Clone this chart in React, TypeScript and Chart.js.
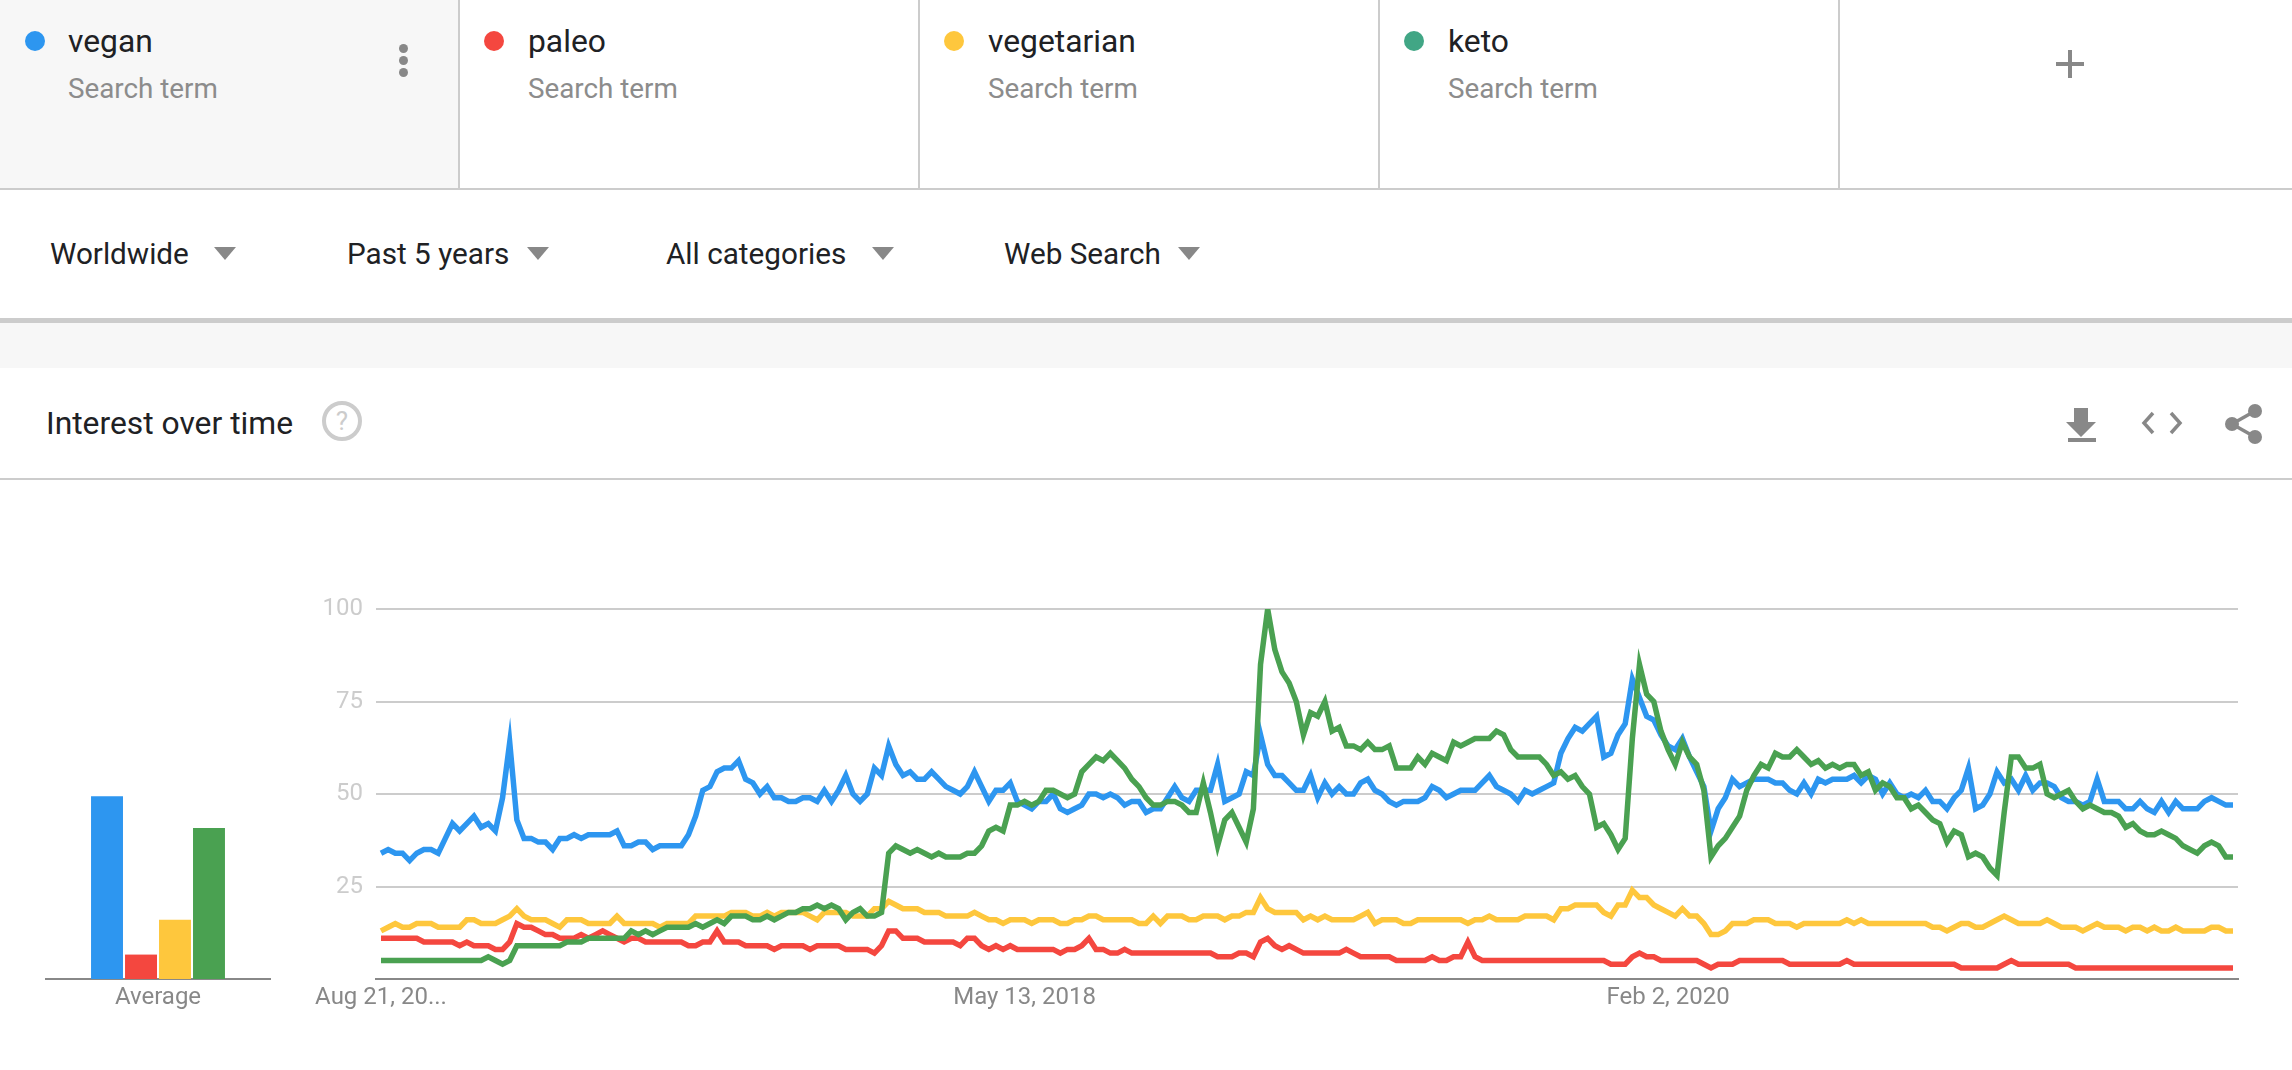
import React, { useEffect, useRef } from 'react';
import { Chart, registerables } from 'chart.js';

Chart.register(...registerables);

const terms = ['vegan', 'paleo', 'vegetarian', 'keto'];
const lineColors = ['#2d96f0', '#f4473f', '#fec73d', '#4aa151'];
const dotColors = ['#2d96f0', '#f4473f', '#fec73d', '#41a685'];
const averages = [49.4, 6.6, 16, 40.8];

const vegan = [
  34, 35, 34, 34, 32, 34, 35, 35, 34, 38,
  42, 40, 42, 44, 41, 42, 40, 49, 64, 43,
  38, 38, 37, 37, 35, 38, 38, 39, 38, 39,
  39, 39, 39, 40, 36, 36, 37, 37, 35, 36,
  36, 36, 36, 39, 44, 51, 52, 56, 57, 57,
  59, 54, 53, 50, 52, 49, 49, 48, 48, 49,
  49, 48, 51, 48, 51, 55, 50, 48, 50, 57,
  55, 63, 58, 55, 56, 54, 54, 56, 54, 52,
  51, 50, 52, 56, 52, 48, 51, 51, 53, 48,
  47, 46, 48, 48, 50, 46, 45, 46, 47, 50,
  50, 49, 50, 49, 47, 48, 48, 45, 46, 46,
  49, 52, 49, 48, 51, 51, 51, 58, 48, 49,
  50, 56, 55, 66, 58, 55, 55, 53, 51, 51,
  55, 49, 53, 50, 52, 50, 50, 53, 54, 51,
  50, 48, 47, 48, 48, 48, 49, 52, 51, 49,
  50, 51, 51, 51, 53, 55, 52, 51, 50, 48,
  51, 50, 51, 52, 53, 61, 65, 68, 67, 69,
  71, 60, 61, 66, 69, 81, 76, 71, 70, 66,
  63, 62, 65, 60, 56, 52, 40, 46, 49, 54,
  52, 53, 54, 54, 54, 53, 53, 51, 50, 53,
  50, 54, 53, 54, 54, 54, 55, 53, 55, 54,
  50, 53, 50, 49, 50, 49, 51, 48, 48, 46,
  49, 51, 57, 46, 47, 50, 56, 53, 54, 51,
  55, 51, 53, 53, 52, 49, 48, 48, 47, 48,
  54, 48, 48, 48, 46, 46, 48, 46, 45, 48,
  45, 48, 46, 46, 46, 48, 49, 48, 47, 47,
];

const paleo = [
  11, 11, 11, 11, 11, 11, 10, 10, 10, 10,
  10, 9, 10, 9, 9, 9, 8, 8, 10, 15,
  14, 14, 13, 12, 12, 11, 11, 11, 12, 11,
  12, 13, 12, 11, 10, 11, 11, 10, 10, 10,
  10, 10, 10, 9, 9, 10, 10, 13, 10, 10,
  10, 9, 9, 9, 9, 8, 9, 9, 9, 9,
  8, 9, 9, 9, 9, 8, 8, 8, 8, 7,
  9, 13, 13, 11, 11, 11, 10, 10, 10, 10,
  10, 9, 11, 11, 9, 8, 9, 8, 9, 8,
  8, 8, 8, 8, 8, 7, 8, 8, 9, 11,
  8, 8, 7, 7, 8, 7, 7, 7, 7, 7,
  7, 7, 7, 7, 7, 7, 7, 6, 6, 6,
  7, 7, 6, 10, 11, 9, 8, 9, 8, 7,
  7, 7, 7, 7, 7, 8, 7, 6, 6, 6,
  6, 6, 5, 5, 5, 5, 5, 6, 5, 5,
  6, 6, 10, 6, 5, 5, 5, 5, 5, 5,
  5, 5, 5, 5, 5, 5, 5, 5, 5, 5,
  5, 5, 4, 4, 4, 6, 7, 6, 6, 5,
  5, 5, 5, 5, 5, 4, 3, 4, 4, 4,
  5, 5, 5, 5, 5, 5, 5, 4, 4, 4,
  4, 4, 4, 4, 4, 5, 4, 4, 4, 4,
  4, 4, 4, 4, 4, 4, 4, 4, 4, 4,
  4, 3, 3, 3, 3, 3, 3, 4, 5, 4,
  4, 4, 4, 4, 4, 4, 4, 3, 3, 3,
  3, 3, 3, 3, 3, 3, 3, 3, 3, 3,
  3, 3, 3, 3, 3, 3, 3, 3, 3, 3,
];

const vegetarian = [
  13, 14, 15, 14, 14, 15, 15, 15, 14, 14,
  14, 14, 16, 16, 15, 15, 15, 16, 17, 19,
  17, 16, 16, 16, 15, 14, 16, 16, 16, 15,
  15, 15, 15, 17, 15, 15, 15, 15, 15, 14,
  15, 15, 15, 15, 17, 17, 17, 17, 17, 18,
  18, 18, 17, 17, 18, 17, 18, 18, 18, 18,
  17, 16, 18, 18, 18, 18, 17, 17, 17, 19,
  19, 21, 20, 19, 19, 19, 18, 18, 18, 17,
  17, 17, 17, 18, 17, 16, 16, 15, 16, 16,
  16, 15, 16, 16, 16, 15, 15, 16, 16, 17,
  17, 16, 16, 16, 16, 16, 15, 15, 17, 15,
  17, 17, 17, 16, 16, 17, 17, 17, 16, 17,
  17, 18, 18, 22, 19, 18, 18, 18, 18, 16,
  17, 16, 17, 16, 16, 16, 16, 17, 18, 15,
  16, 16, 16, 15, 15, 16, 16, 16, 16, 16,
  16, 16, 15, 16, 16, 17, 16, 16, 16, 16,
  17, 17, 17, 17, 16, 19, 19, 20, 20, 20,
  20, 18, 17, 20, 20, 24, 22, 22, 20, 19,
  18, 17, 19, 17, 17, 15, 12, 12, 13, 15,
  15, 15, 16, 16, 16, 15, 15, 15, 14, 15,
  15, 15, 15, 15, 15, 16, 15, 16, 15, 15,
  15, 15, 15, 15, 15, 15, 15, 14, 14, 13,
  14, 15, 15, 14, 14, 15, 16, 17, 16, 15,
  15, 15, 15, 16, 15, 14, 14, 14, 13, 14,
  15, 14, 14, 14, 13, 14, 14, 13, 14, 13,
  13, 14, 13, 13, 13, 13, 14, 14, 13, 13,
];

const keto = [
  5, 5, 5, 5, 5, 5, 5, 5, 5, 5,
  5, 5, 5, 5, 5, 6, 5, 4, 5, 9,
  9, 9, 9, 9, 9, 9, 10, 10, 10, 11,
  11, 11, 11, 11, 11, 13, 12, 13, 12, 13,
  14, 14, 14, 14, 15, 14, 15, 16, 15, 17,
  17, 17, 16, 16, 17, 16, 17, 18, 18, 19,
  19, 20, 19, 20, 19, 16, 18, 19, 17, 17,
  18, 34, 36, 35, 34, 35, 34, 33, 34, 33,
  33, 33, 34, 34, 36, 40, 41, 40, 47, 47,
  48, 47, 48, 51, 51, 50, 49, 50, 56, 58,
  60, 59, 61, 59, 57, 54, 52, 49, 47, 47,
  48, 48, 47, 45, 45, 53, 45, 36, 43, 45,
  41, 37, 46, 85, 100, 89, 83, 80, 75, 66,
  72, 71, 75, 67, 68, 63, 63, 62, 64, 62,
  62, 63, 57, 57, 57, 60, 58, 61, 60, 59,
  64, 63, 64, 65, 65, 65, 67, 66, 62, 60,
  60, 60, 60, 58, 55, 56, 54, 55, 52, 50,
  41, 42, 39, 35, 38, 65, 85, 77, 75, 67,
  62, 58, 64, 60, 58, 51, 33, 36, 38, 41,
  44, 51, 55, 58, 57, 61, 60, 60, 62, 60,
  58, 59, 57, 58, 57, 58, 58, 55, 56, 51,
  53, 52, 49, 49, 46, 47, 45, 43, 42, 37,
  40, 39, 33, 34, 33, 30, 28, 45, 60, 60,
  57, 57, 58, 50, 49, 50, 51, 48, 46, 47,
  46, 45, 45, 44, 41, 42, 40, 39, 39, 40,
  39, 38, 36, 35, 34, 36, 37, 36, 33, 33,
];

const series = [vegan, paleo, vegetarian, keto];
const xTickWeeks = [0, 90, 180];
const xTickLabels = ['Aug 21, 20...', 'May 13, 2018', 'Feb 2, 2020'];
const yTicks = [0, 25, 50, 75, 100];

const FONT = 'Roboto, sans-serif';
const GRID = '#cccccc';
const AXIS = '#888888';

function LineCanvas() {
  const ref = useRef<HTMLCanvasElement | null>(null);
  useEffect(() => {
    if (!ref.current) return;
    const c = new Chart(ref.current, {
      type: 'line',
      data: {
        datasets: series.map((s, d) => ({
          label: terms[d],
          data: s.map((y, x) => ({ x, y })),
          borderColor: lineColors[d],
          borderWidth: 5.5,
          pointRadius: 0,
          tension: 0,
          clip: 0,
          order: series.length - d,
        })),
      },
      options: {
        responsive: false,
        animation: false,
        layout: { padding: { top: 19, right: 42, left: 0, bottom: 0 } },
        plugins: { legend: { display: false }, tooltip: { enabled: false } },
        scales: {
          x: {
            type: 'linear',
            min: -0.7,
            max: 259.7,
            afterBuildTicks: (axis: any) => { axis.ticks = xTickWeeks.map((value) => ({ value })); },
            afterFit: (axis: any) => { axis.height = 61; },
            grid: { display: false, drawTicks: false },
            border: { color: AXIS, width: 2 },
            ticks: {
              autoSkip: false,
              maxRotation: 0,
              padding: 5,
              color: AXIS,
              font: { family: FONT, size: 24 },
              callback: (v: any) => xTickLabels[xTickWeeks.indexOf(v)],
            },
          },
          y: {
            min: 0,
            max: 100,
            afterBuildTicks: (axis: any) => { axis.ticks = yTicks.map((value) => ({ value })); },
            afterFit: (axis: any) => {
              axis.width = 86;
              // the top label must not push the plot down
              axis.paddingTop = 0;
            },
            grid: {
              drawTicks: false,
              lineWidth: 2,
              color: (ctx: any) => (ctx.tick.value === 0 ? AXIS : GRID),
            },
            border: { display: false },
            ticks: {
              padding: 13,
              color: GRID,
              font: { family: FONT, size: 24 },
              callback: (v: any) => (v === 0 ? '' : v),
            },
          },
        },
      },
    } as any);
    return () => { c.destroy(); };
  }, []);
  return <canvas ref={ref} width={1990} height={450} style={{ position: 'absolute', left: 290, top: 590, width: 1990, height: 450 }} />;
}

function BarCanvas() {
  const ref = useRef<HTMLCanvasElement | null>(null);
  useEffect(() => {
    if (!ref.current) return;
    const c = new Chart(ref.current, {
      type: 'bar',
      data: {
        labels: ['Average'],
        datasets: averages.map((v, d) => ({
          label: terms[d],
          data: [v],
          backgroundColor: lineColors[d],
          categoryPercentage: 0.607,
          barPercentage: 0.94,
        })),
      },
      options: {
        responsive: false,
        animation: false,
        layout: { padding: { top: 19, right: 20, left: 46, bottom: 0 } },
        plugins: { legend: { display: false }, tooltip: { enabled: false } },
        scales: {
          x: {
            afterFit: (axis: any) => { axis.height = 61; },
            grid: { display: false, drawTicks: false },
            border: { color: AXIS, width: 2 },
            ticks: { padding: 5, color: AXIS, font: { family: FONT, size: 24 } },
          },
          y: { display: false, min: 0, max: 100 },
        },
      },
    } as any);
    return () => { c.destroy(); };
  }, []);
  return <canvas ref={ref} width={290} height={450} style={{ position: 'absolute', left: 0, top: 590, width: 290, height: 450 }} />;
}

const box = (left: number, top: number, width: number, height: number, background: string): React.CSSProperties => ({
  position: 'absolute', left, top, width, height, background,
});

function Label({ x, y, size, color, children }: { x: number; y: number; size: number; color: string; children: React.ReactNode }) {
  // y is the vertical centre of the line
  return (
    <div style={{ position: 'absolute', left: x, top: y - 30, height: 60, lineHeight: '60px', fontFamily: FONT, fontSize: size, color, whiteSpace: 'nowrap' }}>
      {children}
    </div>
  );
}

function Caret({ x }: { x: number }) {
  return (
    <svg style={{ position: 'absolute', left: x, top: 247 }} width={22} height={14}>
      <polygon points="0,0 22,0 11,13" fill="#888" />
    </svg>
  );
}

const tabLefts = [0, 459, 919, 1379];
const textLefts = [68, 528, 988, 1448];
const filters = ['Worldwide', 'Past 5 years', 'All categories', 'Web Search'];
const filterLefts = [50, 347, 666, 1004];
const caretLefts = [214, 527, 872, 1178];

export default function App() {
  useEffect(() => {
    document.body.style.margin = '0';
    document.body.style.background = '#fff';
  }, []);
  return (
    <div style={{ position: 'relative', width: 2292, height: 1070, overflow: 'hidden', background: '#fff' }}>
      {/* search term tabs */}
      <div style={box(0, 0, 459, 188, '#f7f7f7')} />
      {[459, 919, 1379, 1839].map((x) => <div key={x} style={box(x - 1, 0, 2, 188, GRID)} />)}
      <div style={box(0, 188, 2292, 2, GRID)} />
      {terms.map((t, i) => (
        <React.Fragment key={t}>
          <div style={{ ...box(tabLefts[i] + 25, 31, 20, 20, dotColors[i]), borderRadius: '50%' }} />
          <Label x={textLefts[i]} y={41} size={31.8} color="#202124">{t}</Label>
          <Label x={textLefts[i]} y={89} size={27.8} color="#8c8c8c">Search term</Label>
        </React.Fragment>
      ))}
      {[48, 60, 72].map((y) => <div key={y} style={{ ...box(399, y - 4, 9, 9, '#888'), borderRadius: '50%' }} />)}
      <div style={box(2056, 62, 28, 4, '#888')} />
      <div style={box(2068, 50, 4, 28, '#888')} />

      {/* filter row */}
      {filters.map((f, i) => <Label key={f} x={filterLefts[i]} y={254} size={29.7} color="#202124">{f}</Label>)}
      {caretLefts.map((x) => <Caret key={x} x={x} />)}
      <div style={box(0, 318, 2292, 5, GRID)} />
      <div style={box(0, 323, 2292, 45, '#f7f7f7')} />

      {/* card header */}
      <Label x={46} y={423} size={31.8} color="#202124">Interest over time</Label>
      <div style={{ position: 'absolute', left: 322, top: 401, width: 32, height: 32, border: '4px solid #ccc', borderRadius: '50%', textAlign: 'center', lineHeight: '32px', fontFamily: FONT, fontSize: 26, color: '#ccc' }}>?</div>
      <div style={box(0, 478, 2292, 2, GRID)} />
      <svg style={{ position: 'absolute', left: 2060, top: 400 }} width={210} height={50}>
        <polygon points="14,8 28,8 28,22 36,22 21,37 6,22 14,22" fill="#888" />
        <rect x={8} y={38} width={28} height={4} fill="#888" />
        <polyline points="93,13 84,23 93,33" fill="none" stroke="#888" strokeWidth={3.5} />
        <polyline points="111,13 120,23 111,33" fill="none" stroke="#888" strokeWidth={3.5} />
        <line x1={195} y1={11} x2={172} y2={24} stroke="#888" strokeWidth={3.5} />
        <line x1={195} y1={37} x2={172} y2={24} stroke="#888" strokeWidth={3.5} />
        <circle cx={195} cy={11} r={7} fill="#888" />
        <circle cx={195} cy={37} r={7} fill="#888" />
        <circle cx={172} cy={24} r={7} fill="#888" />
      </svg>

      <BarCanvas />
      <LineCanvas />
    </div>
  );
}
